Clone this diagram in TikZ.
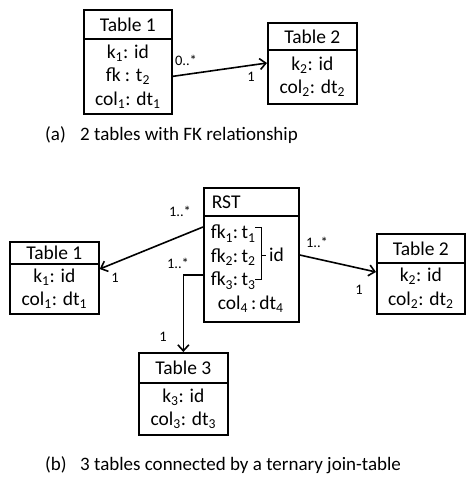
\documentclass[tikz,border=0pt]{standalone}
\usepackage{fontspec}
\setmainfont{Carlito}
\usetikzlibrary{arrows.meta}
\newcommand{\sbs}[1]{\textsubscript{#1}}
\tikzset{
  tabfont/.style={font=\fontsize{19.5}{23.5}\selectfont},
  hdr/.style={draw, line width=1.7pt, inner sep=0pt, anchor=north west, tabfont, align=center},
  bdy/.style={draw, line width=1.7pt, inner sep=0pt, anchor=north west, tabfont, align=center},
  mult/.style={font=\fontsize{14.5}{16}\selectfont, inner sep=0pt},
  captext/.style={font=\fontsize{19}{22}\selectfont, anchor=west, inner sep=0pt},
  arr/.style={line width=1.6pt, -{Straight Barb[length=6pt,width=11pt]}},
}
\begin{document}
\begin{tikzpicture}[x=1pt,y=-1pt]
\useasboundingbox (0,0) rectangle (474,481);
% (a) top tables
\node[hdr, minimum width=88pt, minimum height=29pt] (ta1h) at (83,9) {Table 1};
\node[bdy, minimum width=88pt, minimum height=75pt] (ta1b) at (83,38) {k\sbs{1}: id\\fk : t\sbs{2}\\col\sbs{1}: dt\sbs{1}};
\node[hdr, minimum width=89pt, minimum height=27pt] (ta2h) at (267,22) {Table 2};
\node[bdy, minimum width=89pt, minimum height=54pt] (ta2b) at (267,49) {k\sbs{2}: id\\col\sbs{2}: dt\sbs{2}};
\draw[arr] (ta1b.east) -- ([yshift=-14pt]ta2b.north west);
\node[mult] (ma1) at (186,60) {0..*};
\node[mult] (ma2) at (251,77) {1};
\node[captext] (capa) at (45,135) {\makebox[35pt][l]{(a)}2 tables with FK relationship};
% (b) bottom tables
\node[hdr, minimum width=95pt, minimum height=28pt, text width=95pt, inner xsep=0pt, align=left] (rsth) at (203,187) {\hspace*{8pt}RST};
\node[bdy, minimum width=95pt, minimum height=106pt, text width=95pt, inner xsep=0pt, align=left] (rstb) at (203,215) {\hspace*{7pt}\mbox{fk\sbs{1}:\hspace{3.5pt}t\sbs{1}}\\\hspace*{7pt}\mbox{fk\sbs{2}:\hspace{3.5pt}t\sbs{2}}\\\hspace*{7pt}\mbox{fk\sbs{3}:\hspace{3.5pt}t\sbs{3}}\\\hspace*{14pt}\mbox{col\sbs{4}\hspace{3pt}:\hspace{3pt}dt\sbs{4}}\\[-7pt]};
\node[hdr, minimum width=89pt, minimum height=22pt] (tb1h) at (9,241) {Table 1};
\node[bdy, minimum width=89pt, minimum height=50pt] (tb1b) at (9,263) {k\sbs{1}: id\\col\sbs{1}: dt\sbs{1}};
\node[hdr, minimum width=88pt, minimum height=29pt] (tb2h) at (376,233) {Table 2};
\node[bdy, minimum width=88pt, minimum height=51pt] (tb2b) at (376,262) {k\sbs{2}: id\\col\sbs{2}: dt\sbs{2}};
\node[hdr, minimum width=89pt, minimum height=30pt] (tb3h) at (138,352) {Table 3};
\node[bdy, minimum width=89pt, minimum height=52pt] (tb3b) at (138,382) {k\sbs{3}: id\\col\sbs{3}: dt\sbs{3}};
% bracket
\draw[line width=1pt] (255,227) -- (261,227) -- (261,279) -- (255,279);
\draw[line width=1pt] (261,255) -- (266,255);
\node[tabfont, anchor=west, inner sep=0pt] (idl) at (269,255) {id};
% connectors
\draw[arr] ([yshift=-12pt]rstb.north west) -- ([yshift=-6pt]tb1b.north east);
\draw[arr] ([yshift=-60pt]rstb.north west) -| (tb3h.north);
\draw[arr] ([yshift=-40pt]rstb.north east) -- ([yshift=-10pt]tb2b.north west);
\node[mult] (mb1) at (180,211) {1..*};
\node[mult] (mb2) at (115,278) {1};
\node[mult] (mb3) at (178,263) {1..*};
\node[mult] (mb4) at (163,337) {1};
\node[mult] (mb5) at (317,242) {1..*};
\node[mult] (mb6) at (359,290) {1};
\node[captext] (capb) at (45,465) {\makebox[35pt][l]{(b)}3 tables connected by a ternary join-table};
\end{tikzpicture}
\end{document}
